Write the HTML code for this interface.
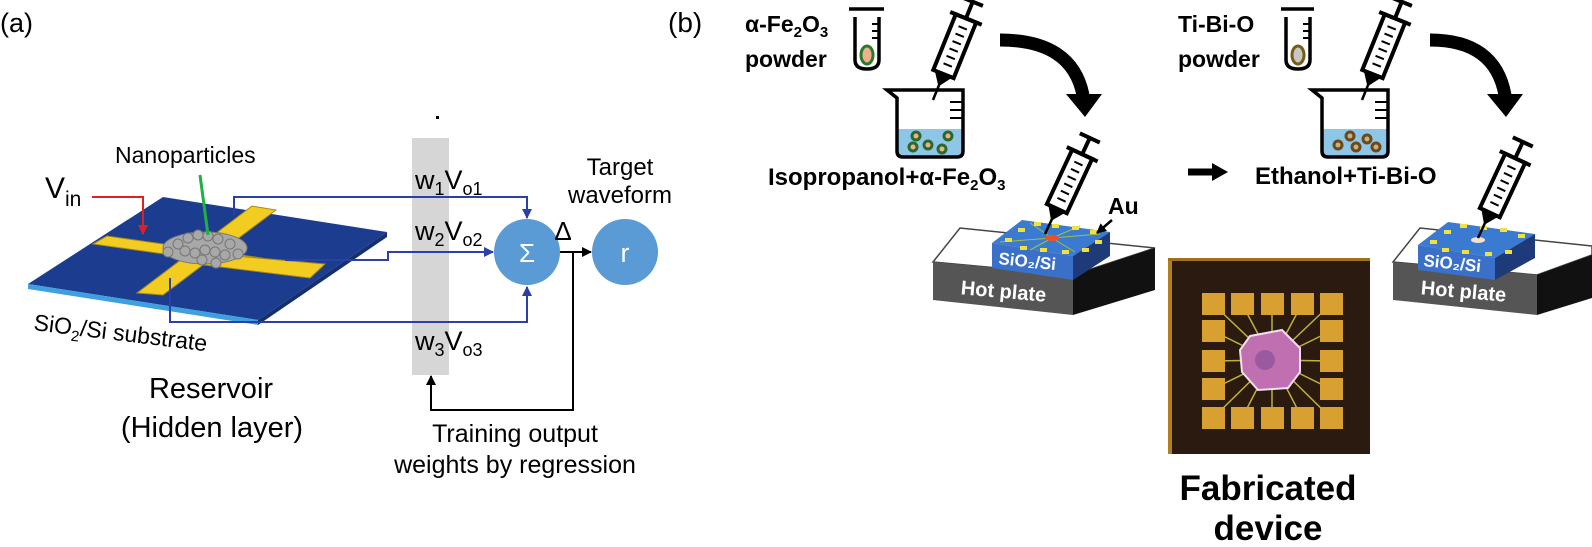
<!DOCTYPE html>
<html><head><meta charset="utf-8"><style>
body{margin:0;width:1592px;height:547px;background:#fff;overflow:hidden}
svg{position:absolute;left:0;top:0}
text{font-family:"Liberation Sans",sans-serif}
</style></head><body>
<svg width="1592" height="547" viewBox="0 0 1592 547">
<defs>
<marker id="ab" markerWidth="10" markerHeight="10" refX="9" refY="5" orient="auto" markerUnits="userSpaceOnUse"><path d="M0,0 L10,5 L0,10 z" fill="#2b3fa8"/></marker>
<marker id="ak" markerWidth="10" markerHeight="10" refX="9" refY="5" orient="auto" markerUnits="userSpaceOnUse"><path d="M0,0 L10,5 L0,10 z" fill="#000"/></marker>
<marker id="ar" markerWidth="10" markerHeight="10" refX="9" refY="5" orient="auto" markerUnits="userSpaceOnUse"><path d="M0,0 L10,5 L0,10 z" fill="#e02020"/></marker>
<g id="syr" stroke="#000" stroke-width="4" fill="#fff">
<line x1="0" y1="0" x2="0" y2="-22" stroke-width="2.5"/>
<path d="M-7,-28 L0,-18 L7,-28 Z" fill="#000"/>
<rect x="-11" y="-88" width="22" height="60"/>
<line x1="-17" y1="-88" x2="17" y2="-88"/>
<line x1="0" y1="-88" x2="0" y2="-106"/>
<line x1="-11" y1="-106" x2="11" y2="-106"/>
<g stroke-width="2"><line x1="-4" y1="-78" x2="5" y2="-78"/><line x1="-4" y1="-70" x2="5" y2="-70"/><line x1="-4" y1="-62" x2="5" y2="-62"/><line x1="-4" y1="-54" x2="5" y2="-54"/><line x1="-4" y1="-46" x2="5" y2="-46"/><line x1="-4" y1="-38" x2="5" y2="-38"/></g>
</g>
</defs>
<text x="0" y="32" font-size="27">(a)</text>
<!-- substrate -->
<polygon points="28,284 163,197 387,232 258,320" fill="#1c3d8f"/>
<polygon points="28,284 258,320 258,325 28,289" fill="#3fa0e0"/>
<polygon points="258,320 387,232 387,237 258,325" fill="#15306f"/>
<!-- gold strips -->
<polygon points="93,244 250,266 262,258 107,236" fill="#f2cc20" stroke="#a88a10"/>
<polygon points="190,252 325,264 310,278 180,262" fill="#f2cc20" stroke="#a88a10"/>
<polygon points="137,293 163,295 276,210 252,206" fill="#f2cc20" stroke="#a88a10"/>
<!-- nanoparticles -->
<g fill="#a8a8a8" stroke="#777" stroke-width="1">
<ellipse cx="205" cy="248" rx="42" ry="16"/>
<circle cx="178" cy="244" r="5"/><circle cx="188" cy="238" r="5"/><circle cx="198" cy="235" r="5"/><circle cx="208" cy="236" r="5"/><circle cx="218" cy="239" r="5"/><circle cx="230" cy="244" r="5"/><circle cx="185" cy="251" r="5"/><circle cx="195" cy="253" r="5"/><circle cx="205" cy="250" r="5"/><circle cx="215" cy="252" r="5"/><circle cx="225" cy="255" r="5"/><circle cx="238" cy="254" r="5"/><circle cx="168" cy="252" r="5"/><circle cx="202" cy="260" r="5"/><circle cx="216" cy="263" r="5"/>
</g>
<text x="115" y="163" font-size="23">Nanoparticles</text>
<line x1="200" y1="175" x2="208" y2="235" stroke="#20b040" stroke-width="3"/>
<text x="45" y="198" font-size="30">V<tspan font-size="21" dy="8">in</tspan></text>
<polyline points="92,197 143,197 143,234" fill="none" stroke="#e02020" stroke-width="2" marker-end="url(#ar)"/>
<text x="33" y="330" font-size="23" transform="rotate(7 33 330)">SiO<tspan font-size="15" dy="6">2</tspan><tspan dy="-6">/Si substrate</tspan></text>
<text x="211" y="398" font-size="29" text-anchor="middle">Reservoir</text>
<text x="212" y="437" font-size="29" text-anchor="middle">(Hidden layer)</text>
<!-- gray bar -->
<rect x="412" y="138" width="37" height="237" fill="#d6d6d6"/>
<rect x="436" y="116" width="3" height="3" fill="#000"/>
<!-- blue lines -->
<polyline points="234,215 234,197 527,197 527,218" fill="none" stroke="#2b3fa8" stroke-width="2" marker-end="url(#ab)"/>
<polyline points="285,260 388,260 388,252 493,252" fill="none" stroke="#2b3fa8" stroke-width="2" marker-end="url(#ab)"/>
<polyline points="170,278 170,322 527,322 527,287" fill="none" stroke="#2b3fa8" stroke-width="2" marker-end="url(#ab)"/>
<text x="415" y="189" font-size="27">w<tspan font-size="18" dy="6">1</tspan><tspan dy="-6">V</tspan><tspan font-size="18" dy="6">o1</tspan></text>
<text x="415" y="240" font-size="27">w<tspan font-size="18" dy="6">2</tspan><tspan dy="-6">V</tspan><tspan font-size="18" dy="6">o2</tspan></text>
<text x="415" y="350" font-size="27">w<tspan font-size="18" dy="6">3</tspan><tspan dy="-6">V</tspan><tspan font-size="18" dy="6">o3</tspan></text>
<circle cx="527" cy="252" r="33" fill="#5b9bd5"/>
<text x="527" y="262" font-size="26" text-anchor="middle" fill="#fff">Σ</text>
<circle cx="625" cy="252" r="33" fill="#5b9bd5"/>
<text x="625" y="262" font-size="27" text-anchor="middle" fill="#fff">r</text>
<line x1="560" y1="252" x2="591" y2="252" stroke="#000" stroke-width="2" marker-end="url(#ak)"/>
<polyline points="573,252 573,410 431,410 431,378" fill="none" stroke="#000" stroke-width="2"/>
<line x1="431" y1="390" x2="431" y2="376" stroke="#000" stroke-width="2" marker-end="url(#ak)"/>
<text x="563" y="240" font-size="26" text-anchor="middle">Δ</text>
<text x="620" y="175" font-size="24" text-anchor="middle">Target</text>
<text x="620" y="203" font-size="24" text-anchor="middle">waveform</text>
<text x="515" y="442" font-size="25" text-anchor="middle">Training output</text>
<text x="515" y="473" font-size="25" text-anchor="middle">weights by regression</text>

<!-- panel b -->
<text x="668" y="32" font-size="28">(b)</text>
<text x="745" y="32" font-size="23" font-weight="bold">α-Fe<tspan font-size="15" dy="5">2</tspan><tspan dy="-5">O</tspan><tspan font-size="15" dy="5">3</tspan></text>
<text x="745" y="67" font-size="23" font-weight="bold">powder</text>
<g stroke="#000" stroke-width="3.5" fill="none"><line x1="849" y1="9" x2="884" y2="9"/><path d="M855,17 L855,60 Q855,69 867,69 Q879,69 879,60 L879,17"/><line x1="872" y1="24" x2="879" y2="24" stroke-width="2"/><line x1="872" y1="31" x2="879" y2="31" stroke-width="2"/><line x1="872" y1="38" x2="879" y2="38" stroke-width="2"/></g>
<ellipse cx="867" cy="55" rx="6" ry="9" fill="#f0b090" stroke="#2a7a2a" stroke-width="3"/>
<!-- beaker 1 -->
<rect x="898" y="129" width="64" height="27" fill="#8ec6e8"/>
<path d="M887,90 L897,98 L897,151 Q897,157 903,157 L957,157 Q963,157 963,151 L963,90 Z" fill="none" stroke="#000" stroke-width="3.5"/>
<g stroke="#000" stroke-width="2"><line x1="950" y1="102" x2="962" y2="102"/><line x1="950" y1="110" x2="962" y2="110"/><line x1="950" y1="118" x2="962" y2="118"/></g>
<g fill="#f0b090" stroke="#2a6a2a" stroke-width="3"><circle cx="916" cy="136" r="4"/><circle cx="948" cy="136" r="4"/><circle cx="913" cy="147" r="4"/><circle cx="928" cy="145" r="4"/><circle cx="942" cy="149" r="4"/></g>
<use href="#syr" transform="translate(933,100) rotate(22)"/>
<path d="M1000,40 Q1072,40 1083,95" fill="none" stroke="#000" stroke-width="13"/>
<polygon points="1066,94 1102,94 1085,117" fill="#000"/>
<text x="768" y="185" font-size="24" font-weight="bold">Isopropanol+α-Fe<tspan font-size="15" dy="5">2</tspan><tspan dy="-5">O</tspan><tspan font-size="15" dy="5">3</tspan></text>
<!-- hot plate 1 -->
<polygon points="933,262 960,228 1155,248 1073,275" fill="#fff" stroke="#444" stroke-width="1.5"/>
<polygon points="933,262 1073,275 1073,315 933,300" fill="#555"/>
<polygon points="1073,275 1155,248 1155,290 1073,315" fill="#111"/>
<text x="1003" y="298" font-size="20" font-weight="bold" fill="#fff" text-anchor="middle" transform="rotate(5 1003 298)">Hot plate</text>
<polygon points="992,243 1022,220 1110,232 1073,256" fill="#3a7ad0"/>
<polygon points="992,243 1073,256 1073,280 992,268" fill="#3a70c8"/>
<polygon points="1073,256 1110,232 1110,256 1073,280" fill="#1e3a78"/>
<g stroke="#a0c040" stroke-width="1"><line x1="1052" y1="238" x2="1000" y2="242"/><line x1="1052" y1="238" x2="1030" y2="223"/><line x1="1052" y1="238" x2="1080" y2="226"/><line x1="1052" y1="238" x2="1100" y2="234"/><line x1="1052" y1="238" x2="1075" y2="252"/><line x1="1052" y1="238" x2="1030" y2="250"/></g>
<g fill="#f0e040"><rect x="1005" y="238" width="7" height="4"/><rect x="1018" y="228" width="7" height="4"/><rect x="1034" y="222" width="7" height="4"/><rect x="1052" y="224" width="7" height="4"/><rect x="1072" y="226" width="7" height="4"/><rect x="1090" y="230" width="7" height="4"/><rect x="1095" y="240" width="7" height="4"/><rect x="1082" y="248" width="7" height="4"/><rect x="1062" y="250" width="7" height="4"/><rect x="1040" y="248" width="7" height="4"/><rect x="1020" y="246" width="7" height="4"/></g>
<ellipse cx="1052" cy="238" rx="7" ry="3" fill="#f05020"/>
<text x="998" y="264" font-size="17" font-weight="bold" fill="#fff" transform="rotate(6 998 264)">SiO₂/Si</text>
<use href="#syr" transform="translate(1045,234) rotate(25)"/>
<text x="1108" y="214" font-size="23" font-weight="bold">Au</text>
<line x1="1112" y1="220" x2="1097" y2="233" stroke="#000" stroke-width="2.5" marker-end="url(#ak)"/>
<!-- middle arrow -->
<line x1="1188" y1="172" x2="1214" y2="172" stroke="#000" stroke-width="7"/>
<polygon points="1212,163 1228,172 1212,181" fill="#000"/>
<!-- right side -->
<text x="1178" y="32" font-size="23" font-weight="bold">Ti-Bi-O</text>
<text x="1178" y="67" font-size="23" font-weight="bold">powder</text>
<g stroke="#000" stroke-width="3.5" fill="none"><line x1="1281" y1="9" x2="1314" y2="9"/><path d="M1286,17 L1286,60 Q1286,69 1298,69 Q1310,69 1310,60 L1310,17"/><line x1="1303" y1="24" x2="1310" y2="24" stroke-width="2"/><line x1="1303" y1="31" x2="1310" y2="31" stroke-width="2"/><line x1="1303" y1="38" x2="1310" y2="38" stroke-width="2"/></g>
<ellipse cx="1298" cy="55" rx="6" ry="9" fill="#c8c8c0" stroke="#7a5a1a" stroke-width="3"/>
<rect x="1323" y="129" width="64" height="27" fill="#8ec6e8"/>
<path d="M1312,90 L1322,98 L1322,151 Q1322,157 1328,157 L1382,157 Q1388,157 1388,151 L1388,90 Z" fill="none" stroke="#000" stroke-width="3.5"/>
<g stroke="#000" stroke-width="2"><line x1="1375" y1="102" x2="1387" y2="102"/><line x1="1375" y1="110" x2="1387" y2="110"/><line x1="1375" y1="118" x2="1387" y2="118"/></g>
<g fill="#c8b080" stroke="#6a4a1a" stroke-width="3"><circle cx="1338" cy="145" r="4"/><circle cx="1350" cy="136" r="4"/><circle cx="1356" cy="147" r="4"/><circle cx="1367" cy="139" r="4"/><circle cx="1376" cy="147" r="4"/></g>
<use href="#syr" transform="translate(1362,100) rotate(22)"/>
<path d="M1430,40 Q1495,40 1505,95" fill="none" stroke="#000" stroke-width="13"/>
<polygon points="1487,94 1523,94 1506,117" fill="#000"/>
<text x="1255" y="184" font-size="24" font-weight="bold">Ethanol+Ti-Bi-O</text>
<polygon points="1393,262 1420,228 1592,246 1592,255 1537,275" fill="#fff" stroke="#444" stroke-width="1.5"/>
<polygon points="1393,262 1537,275 1537,315 1393,300" fill="#555"/>
<polygon points="1537,275 1592,255 1592,298 1537,315" fill="#111"/>
<text x="1463" y="298" font-size="20" font-weight="bold" fill="#fff" text-anchor="middle" transform="rotate(5 1463 298)">Hot plate</text>
<polygon points="1418,245 1448,222 1535,234 1495,258" fill="#3a7ad0"/>
<polygon points="1418,245 1495,258 1495,280 1418,270" fill="#3a70c8"/>
<polygon points="1495,258 1535,234 1535,258 1495,280" fill="#1e3a78"/>
<g fill="#f0e040"><rect x="1430" y="240" width="7" height="4"/><rect x="1444" y="230" width="7" height="4"/><rect x="1460" y="224" width="7" height="4"/><rect x="1480" y="226" width="7" height="4"/><rect x="1500" y="228" width="7" height="4"/><rect x="1518" y="234" width="7" height="4"/><rect x="1505" y="250" width="7" height="4"/><rect x="1485" y="252" width="7" height="4"/><rect x="1462" y="250" width="7" height="4"/><rect x="1442" y="248" width="7" height="4"/></g>
<ellipse cx="1478" cy="240" rx="7" ry="3" fill="#f8e0d0"/>
<text x="1423" y="266" font-size="17" font-weight="bold" fill="#fff" transform="rotate(6 1423 266)">SiO₂/Si</text>
<use href="#syr" transform="translate(1478,238) rotate(25)"/>
<!-- photo -->
<rect x="1168" y="258" width="202" height="196" fill="#2a1a10"/>
<rect x="1168" y="258" width="4" height="196" fill="#b08020"/>
<rect x="1168" y="258" width="202" height="3" fill="#a07020"/>
<g stroke="#c0b040" stroke-width="1.5"><line x1="1272" y1="360" x2="1213" y2="304"/><line x1="1272" y1="360" x2="1242" y2="304"/><line x1="1272" y1="360" x2="1272" y2="304"/><line x1="1272" y1="360" x2="1302" y2="304"/><line x1="1272" y1="360" x2="1331" y2="304"/><line x1="1272" y1="360" x2="1213" y2="418"/><line x1="1272" y1="360" x2="1242" y2="418"/><line x1="1272" y1="360" x2="1272" y2="418"/><line x1="1272" y1="360" x2="1302" y2="418"/><line x1="1272" y1="360" x2="1331" y2="418"/><line x1="1272" y1="360" x2="1213" y2="331"/><line x1="1272" y1="360" x2="1213" y2="361"/><line x1="1272" y1="360" x2="1213" y2="389"/><line x1="1272" y1="360" x2="1331" y2="331"/><line x1="1272" y1="360" x2="1331" y2="361"/><line x1="1272" y1="360" x2="1331" y2="389"/></g>
<g fill="#d8a030">
<rect x="1202" y="293" width="23" height="22"/><rect x="1231" y="293" width="23" height="22"/><rect x="1261" y="293" width="23" height="22"/><rect x="1291" y="293" width="23" height="22"/><rect x="1320" y="293" width="23" height="22"/>
<rect x="1202" y="320" width="23" height="22"/><rect x="1320" y="320" width="23" height="22"/>
<rect x="1202" y="350" width="23" height="22"/><rect x="1320" y="350" width="23" height="22"/>
<rect x="1202" y="378" width="23" height="22"/><rect x="1320" y="378" width="23" height="22"/>
<rect x="1202" y="407" width="23" height="22"/><rect x="1231" y="407" width="23" height="22"/><rect x="1261" y="407" width="23" height="22"/><rect x="1291" y="407" width="23" height="22"/><rect x="1320" y="407" width="23" height="22"/>
</g>
<polygon points="1250,336 1282,330 1300,348 1300,372 1288,388 1258,390 1242,372 1240,350" fill="#c070b0" stroke="#f0e0f0" stroke-width="2"/>
<circle cx="1265" cy="360" r="10" fill="#9a5aa0"/>
<text x="1268" y="500" font-size="35" font-weight="bold" text-anchor="middle">Fabricated</text>
<text x="1268" y="540" font-size="35" font-weight="bold" text-anchor="middle">device</text>
</svg>
</body></html>
